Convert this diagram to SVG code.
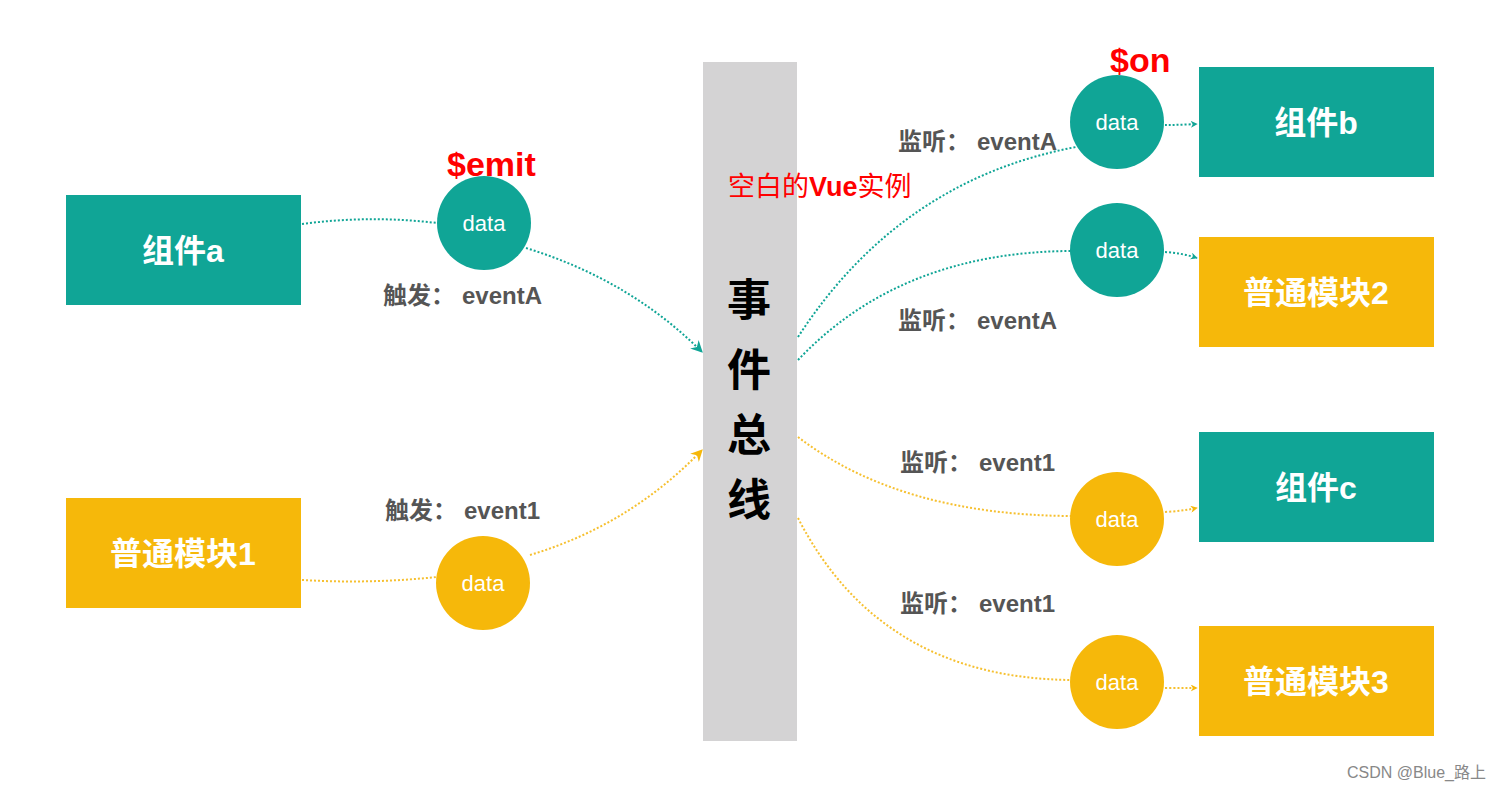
<svg xmlns="http://www.w3.org/2000/svg" width="1500" height="789" viewBox="0 0 1500 789">
<defs>
<style>
.teal{fill:#10a596}
.orng{fill:#f6b80a}
.bt{font-family:"Liberation Sans","Noto Sans CJK SC",sans-serif;font-weight:bold;fill:#fff;font-size:32px;text-anchor:middle}
.dt{font-family:"Liberation Sans",sans-serif;fill:#fff;font-size:22px;text-anchor:middle}
.lb{font-family:"Liberation Sans","Noto Sans CJK SC",sans-serif;font-weight:bold;fill:#555;font-size:24px}
.red{font-family:"Liberation Sans","Noto Sans CJK SC",sans-serif;fill:#f00}
.ct{fill:none;stroke:#10a596;stroke-width:2;stroke-dasharray:2 2}
.co{fill:none;stroke:#f6c030;stroke-width:2;stroke-dasharray:2 2}
</style>
<marker id="at" viewBox="0 0 10 10" refX="9" refY="5" markerWidth="7" markerHeight="7" orient="auto" markerUnits="userSpaceOnUse"><path d="M0,0 L10,5 L0,10 L3,5 Z" fill="#10a596"/></marker>
<marker id="ao" viewBox="0 0 10 10" refX="9" refY="5" markerWidth="7" markerHeight="7" orient="auto" markerUnits="userSpaceOnUse"><path d="M0,0 L10,5 L0,10 L3,5 Z" fill="#f6b80a"/></marker>
<marker id="at2" viewBox="0 0 10 10" refX="9" refY="5" markerWidth="12" markerHeight="12" orient="auto" markerUnits="userSpaceOnUse"><path d="M0,0 L10,5 L0,10 L3,5 Z" fill="#10a596"/></marker>
<marker id="ao2" viewBox="0 0 10 10" refX="9" refY="5" markerWidth="12" markerHeight="12" orient="auto" markerUnits="userSpaceOnUse"><path d="M0,0 L10,5 L0,10 L3,5 Z" fill="#f6b80a"/></marker>
</defs>
<rect width="1500" height="789" fill="#fff"/>
<g id="bus">
<rect x="703" y="62" width="94" height="679" fill="#d4d3d4"/>
<g font-family="'Noto Sans CJK SC',sans-serif" font-weight="bold" font-size="44" fill="#000" text-anchor="middle">
<text x="749" y="316">事</text>
<text x="749" y="386">件</text>
<text x="749" y="451">总</text>
<text x="749" y="516">线</text>
</g>
<text class="red" x="728" y="196" font-size="27">空白的<tspan font-weight="bold">Vue</tspan>实例</text>
</g>
<g id="connectors">
<path class="ct" d="M302,224 Q370,215 437,223"/>
<path class="ct" d="M526,248 Q630,280 702,352" marker-end="url(#at2)"/>
<path class="co" d="M302,580 Q370,584 437,577"/>
<path class="co" d="M530,555 Q630,525 702,450" marker-end="url(#ao2)"/>
<path class="ct" d="M798,337 Q900,180 1076,147"/>
<path class="ct" d="M798,360 Q900,252 1071,251"/>
<path class="co" d="M798,437 Q900,515 1071,516"/>
<path class="co" d="M798,518 Q880,678 1071,680"/>
<path class="ct" d="M1165,125 Q1180,125 1197,124" marker-end="url(#at)"/>
<path class="ct" d="M1165,252 Q1182,253 1197,258" marker-end="url(#at)"/>
<path class="co" d="M1165,512 Q1182,511 1197,508" marker-end="url(#ao)"/>
<path class="co" d="M1165,688 Q1182,688 1197,688" marker-end="url(#ao)"/>
</g>
<g id="compA"><rect class="teal" x="66" y="195" width="235" height="110"/><text class="bt" x="183" y="262">组件a</text></g>
<g id="mod1"><rect class="orng" x="66" y="498" width="235" height="110"/><text class="bt" x="183" y="565">普通模块1</text></g>
<g id="compB"><rect class="teal" x="1199" y="67" width="235" height="110"/><text class="bt" x="1316" y="134">组件b</text></g>
<g id="mod2"><rect class="orng" x="1199" y="237" width="235" height="110"/><text class="bt" x="1316" y="304">普通模块2</text></g>
<g id="compC"><rect class="teal" x="1199" y="432" width="235" height="110"/><text class="bt" x="1316" y="499">组件c</text></g>
<g id="mod3"><rect class="orng" x="1199" y="626" width="235" height="110"/><text class="bt" x="1316" y="693">普通模块3</text></g>
<g id="dataA"><circle class="teal" cx="484" cy="223" r="47"/><text class="dt" x="484" y="231">data</text></g>
<g id="data1"><circle class="orng" cx="483" cy="583" r="47"/><text class="dt" x="483" y="591">data</text></g>
<g id="dataB"><circle class="teal" cx="1117" cy="122" r="47"/><text class="dt" x="1117" y="130">data</text></g>
<g id="data2"><circle class="teal" cx="1117" cy="250" r="47"/><text class="dt" x="1117" y="258">data</text></g>
<g id="dataC"><circle class="orng" cx="1117" cy="519" r="47"/><text class="dt" x="1117" y="527">data</text></g>
<g id="data3"><circle class="orng" cx="1117" cy="682" r="47"/><text class="dt" x="1117" y="690">data</text></g>
<g id="labels">
<text class="lb" x="383" y="304">触发：<tspan x="462">eventA</tspan></text>
<text class="lb" x="385" y="519">触发：<tspan x="464">event1</tspan></text>
<text class="lb" x="898" y="150">监听：<tspan x="977">eventA</tspan></text>
<text class="lb" x="898" y="329">监听：<tspan x="977">eventA</tspan></text>
<text class="lb" x="900" y="471">监听：<tspan x="979">event1</tspan></text>
<text class="lb" x="900" y="612">监听：<tspan x="979">event1</tspan></text>
<text class="red" x="447" y="176" font-size="34" font-weight="bold">$emit</text>
<text class="red" x="1110" y="72" font-size="34" font-weight="bold">$on</text>
</g>
<text x="1347" y="778" font-family="'Liberation Sans','Noto Sans CJK SC',sans-serif" font-size="16" fill="#888">CSDN @Blue_路上</text>
</svg>
